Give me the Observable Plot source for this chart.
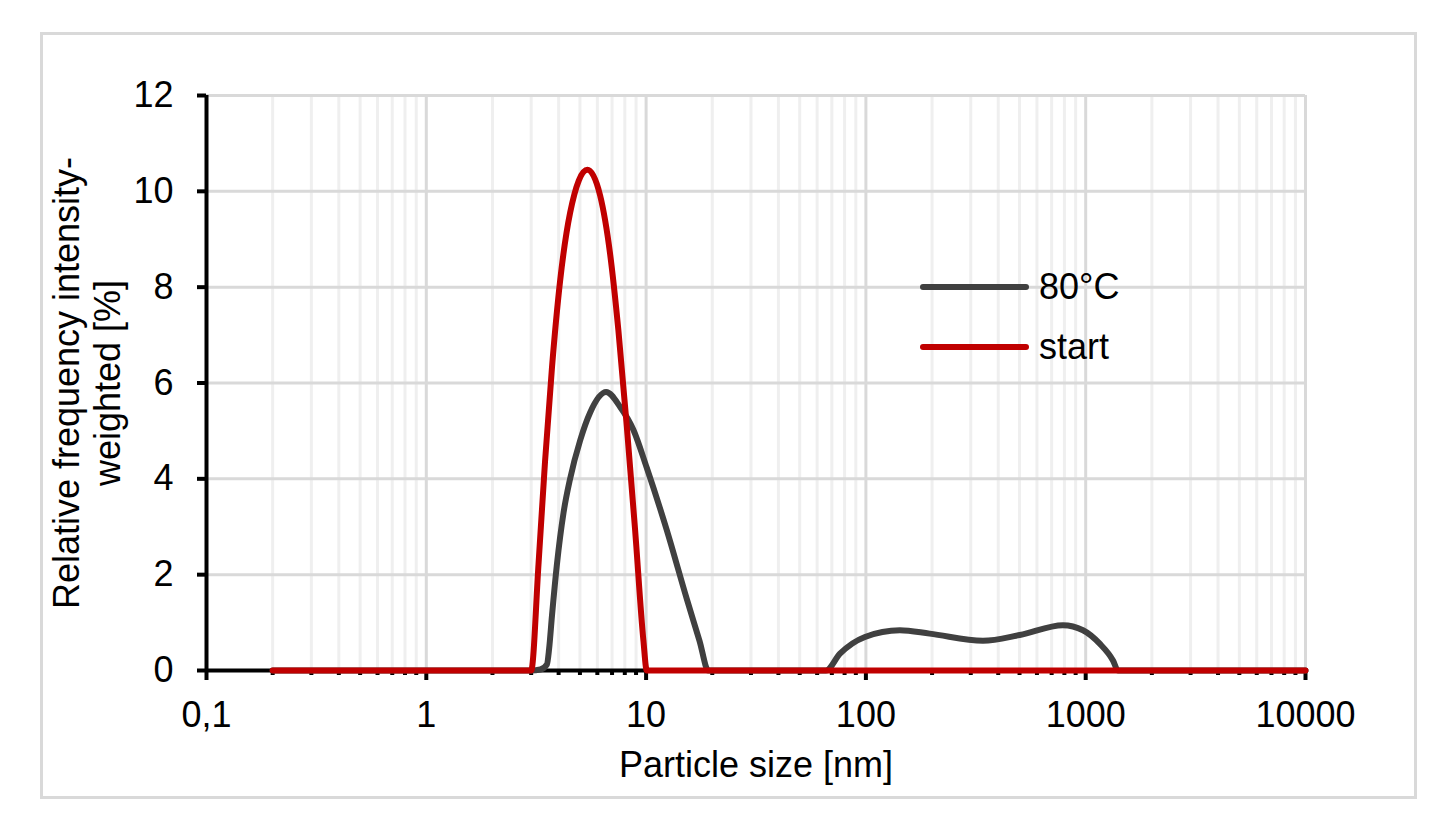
<!DOCTYPE html>
<html>
<head>
<meta charset="utf-8">
<script src="https://cdn.jsdelivr.net/npm/d3@7"></script>
<script src="https://cdn.jsdelivr.net/npm/@observablehq/plot@0.6"></script>
<style>
  html, body { margin: 0; padding: 0; background: #fff; }
  #wrap { position: relative; width: 1456px; height: 835px; font-family: "Liberation Sans", Arial, sans-serif; }
  #border { position: absolute; left: 40px; top: 32px; width: 1377px; height: 767px; box-sizing: border-box; border: 3px solid #d9d9d9; pointer-events: none; }
  .leg { position: absolute; left: 920px; height: 42px; display: flex; align-items: center; font-size: 36px; color: #000; }
  .sw { width: 109px; height: 6px; border-radius: 3px; margin-right: 10px; }
</style>
</head>
<body>
<div id="wrap">
  <div id="border"></div>
  <div id="chart"></div>
  <div id="legend"></div>
</div>
<script>
// ---- data ----
const seriesNames = ["80°C", "start"];
const seriesColors = ["#404040", "#c00000"];

const sizes80 = [0.2, 3.0, 3.3, 3.54, 3.62, 3.73, 3.93, 4.21, 4.51, 5.01, 5.56, 6.58, 7.62, 8.76, 10.07, 12.4, 15.3, 17.5, 19.2,
                 65.8, 76.2, 99, 142.8, 195, 341, 501, 788, 972, 1158, 1331, 1403, 10000];
const freq80  = [0, 0, 0.02, 0.13, 0.45, 1.14, 2.22, 3.29, 4.0, 4.8, 5.38, 5.81, 5.5, 5.02, 4.23, 2.94, 1.5, 0.62, 0,
                 0, 0.35, 0.7, 0.84, 0.77, 0.62, 0.74, 0.945, 0.84, 0.56, 0.21, 0, 0];

const sizesStart = [0.2, 3.0, 3.24, 3.47, 3.73, 4.06, 4.51, 5.41, 6.18, 6.86, 7.48, 8.17, 8.91, 9.72, 10.07, 10000];
const freqStart  = [0, 0, 2.22, 4.37, 6.32, 8.12, 9.55, 10.45, 9.91, 8.69, 7.1, 5.09, 2.94, 0.63, 0, 0];

const xMajor = [0.1, 1, 10, 100, 1000, 10000];
const xTickLabels = ["0,1", "1", "10", "100", "1000", "10000"];
const yTicks = [0, 2, 4, 6, 8, 10, 12];
const xTitle = "Particle size [nm]";
const yTitle = "Relative frequency intensity-\nweighted [%]";

// minor ticks 2..9 per decade
const xMinor = [];
for (const d of xMajor.slice(0, -1)) for (let k = 2; k <= 9; k++) xMinor.push(+(d * k).toPrecision(6));

const data80 = sizes80.map((x, i) => ({x, y: freq80[i]}));
const dataStart = sizesStart.map((x, i) => ({x, y: freqStart[i]}));

const font = 36;
const chart = Plot.plot({
  width: 1456, height: 835,
  marginLeft: 206, marginRight: 151, marginTop: 95, marginBottom: 165,
  style: {fontFamily: '"Liberation Sans", Arial, sans-serif', fontSize: font + "px", color: "#000", background: "transparent", overflow: "visible"},
  x: {type: "log", domain: [0.1, 10000], label: null},
  y: {domain: [0, 12], label: null},
  marks: [
    Plot.ruleX(xMinor, {stroke: "#efefef", strokeWidth: 3}),
    Plot.ruleX(xMajor, {stroke: "#d9d9d9", strokeWidth: 3}),
    Plot.ruleY(yTicks, {stroke: "#d9d9d9", strokeWidth: 3}),
    Plot.ruleY([0], {stroke: "#000", strokeWidth: 4}),
    Plot.ruleX([0.1], {stroke: "#000", strokeWidth: 4}),
    Plot.axisX(xMinor, {tickSize: 5, tickFormat: () => "", strokeWidth: 4, label: null}),
    Plot.axisX(xMajor, {tickSize: 10, tickPadding: 21, strokeWidth: 4, fontSize: font, label: null,
      tickFormat: d => xTickLabels[xMajor.indexOf(d)]}),
    Plot.axisY(yTicks, {tickSize: 9, tickPadding: 24, strokeWidth: 4, fontSize: font, label: null}),
    Plot.line(data80, {x: "x", y: "y", stroke: seriesColors[0], strokeWidth: 6, curve: "monotone-x"}),
    Plot.line(dataStart, {x: "x", y: "y", stroke: seriesColors[1], strokeWidth: 6, curve: "monotone-x"}),
    Plot.text([xTitle], {text: d => d, frameAnchor: "bottom", dy: 95, fontSize: font, lineAnchor: "middle"}),
    Plot.text([yTitle], {text: d => d, frameAnchor: "left", dx: -120, rotate: -90, textAnchor: "middle", fontSize: font, lineHeight: 1.15, lineAnchor: "middle"})
  ]
});
document.getElementById("chart").appendChild(chart);

// legend
const legTops = [266, 326];
const legend = document.getElementById("legend");
seriesNames.forEach((name, i) => {
  const row = document.createElement("div");
  row.className = "leg";
  row.style.top = legTops[i] + "px";
  const sw = document.createElement("div");
  sw.className = "sw";
  sw.style.background = seriesColors[i];
  const t = document.createElement("span");
  t.textContent = name;
  row.appendChild(sw); row.appendChild(t);
  legend.appendChild(row);
});
</script>
</body>
</html>
